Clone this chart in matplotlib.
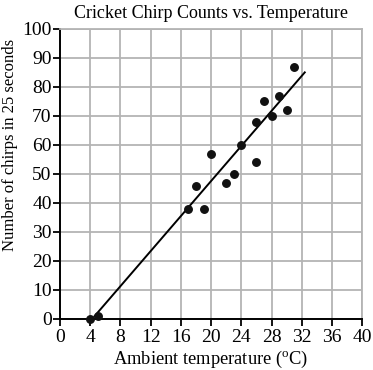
import numpy as np
import matplotlib
matplotlib.use("Agg")
import matplotlib.pyplot as plt

# data
temp = [4, 5, 17, 18, 19, 20, 22, 23, 24, 26, 26, 27, 28, 29, 30, 31]
chirps = [0, 1, 38, 46, 38, 57, 47, 50, 60, 54, 68, 75, 70, 77, 72, 87]
fit_x = [4.55, 32.4]
fit_y = [0.9, 85.0]
xticks = list(range(0, 41, 4))
yticks = list(range(0, 101, 10))

plt.rcParams["font.family"] = ["Liberation Serif", "DejaVu Serif"]
plt.rcParams["mathtext.fontset"] = "custom"
plt.rcParams["mathtext.rm"] = "Liberation Serif"

fig = plt.figure(figsize=(3.73, 3.70), dpi=100)
ax = fig.add_axes([0.161, 0.138, 0.81, 0.784])

ax.grid(True, color="#b4b4b4", linewidth=1.3)
ax.set_axisbelow(True)
ax.plot(fit_x, fit_y, color="black", linewidth=1.4, zorder=3)
ax.plot(temp, chirps, "o", color="#111111", markersize=5.4, zorder=4, clip_on=False)

ax.set_xlim(0, 40)
ax.set_ylim(0, 100)
ax.set_xticks(xticks)
ax.set_yticks(yticks)
ax.tick_params(direction="out", length=5, width=1.3, labelsize=14, color="black")
ax.tick_params(axis="y", pad=1)
ax.tick_params(axis="x", pad=2)

for side in ["top", "right"]:
    ax.spines[side].set_color("#b4b4b4")
    ax.spines[side].set_linewidth(1.3)
for side in ["left", "bottom"]:
    ax.spines[side].set_color("black")
    ax.spines[side].set_linewidth(1.4)

ax.set_title("Cricket Chirp Counts vs. Temperature", fontsize=13, pad=8)
ax.set_xlabel(r"Ambient temperature ($^{\rm o}$C)", fontsize=13.3, labelpad=2)
ax.set_ylabel("Number of chirps in 25 seconds", fontsize=12)
ax.yaxis.set_label_coords(-0.14, 0.6)

fig.savefig("out.png", dpi=100)
